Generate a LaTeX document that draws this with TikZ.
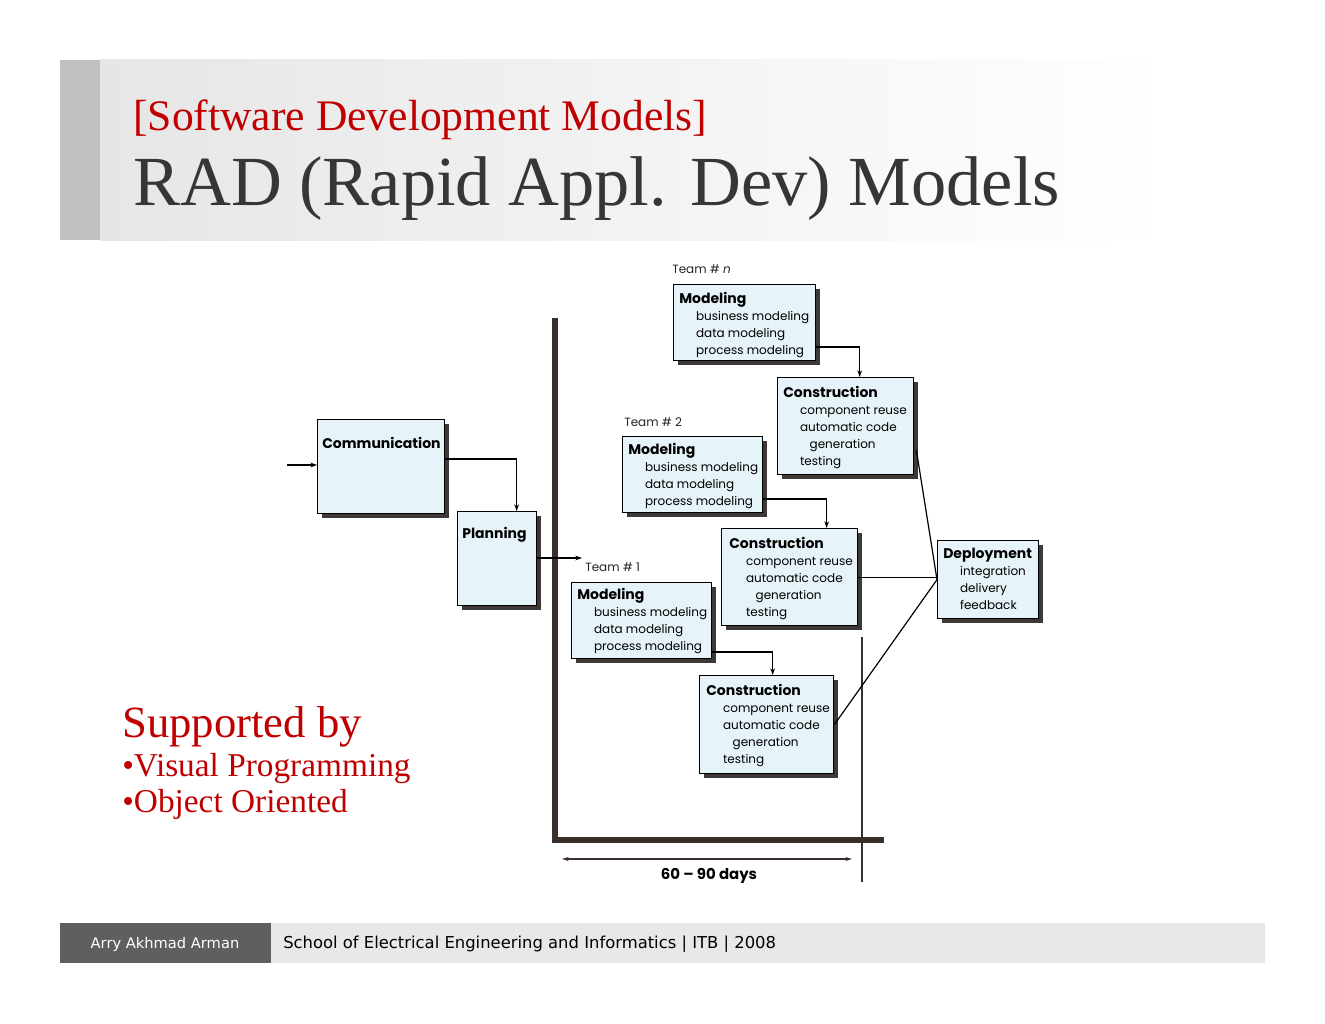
\documentclass[tikz,border=0pt]{standalone}
\usepackage{fontspec}
\setmainfont{Liberation Serif}
\newfontfamily\diafont{Poppins}
\newfontfamily\footfont{DejaVu Sans}
\usetikzlibrary{calc,shadows,arrows.meta}
\definecolor{boxfill}{HTML}{E6F3F8}
\definecolor{shadowc}{HTML}{3E3936}
\definecolor{titlered}{HTML}{C00000}
\definecolor{titlegray}{HTML}{363636}
\definecolor{axisc}{HTML}{3B2F2B}
\definecolor{hdrgray}{HTML}{E6E6E6}
\definecolor{bargray}{HTML}{C0C0C0}
\definecolor{footdark}{HTML}{5F5F5F}
\definecolor{footlight}{HTML}{E8E8E8}
\newcommand{\hd}[1]{{\fontsize{10.5}{12.75}\selectfont\bfseries #1}}
\newcommand{\ind}{\hspace*{1.4em}}
\begin{document}
\begin{tikzpicture}[x=0.75pt,y=-0.75pt,
  box/.style 2 args={draw=black, line width=1pt, fill=boxfill, anchor=north west,
    inner sep=0pt, minimum width=#1*0.75pt, minimum height=#2*0.75pt,
    drop shadow={shadow xshift=3.5pt, shadow yshift=-3.5pt, fill=shadowc, opacity=1}},
  lbl/.style={font=\diafont\fontsize{9}{12.75}\selectfont, align=left, anchor=north west, inner sep=0pt},
  team/.style={font=\diafont\fontsize{9}{11}\selectfont, anchor=west, inner sep=0pt, text=black!85},
  conn/.style={draw=black, line width=0.9pt},
  arr/.style={conn, -{Stealth[length=5pt,width=3.5pt]}},
  axis/.style={draw=axisc, line width=4.8pt},
  redtxt/.style={text=titlered, anchor=base west, inner sep=0pt}]
\useasboundingbox (0,0) rectangle (1325,1024);
\fill[white] (0,0) rectangle (1325,1024);
% header
\shade[left color=hdrgray, right color=white] (100,60) rectangle (1172,240);
\fill[bargray] (60,60) rectangle (100,240);
\node[redtxt, font=\fontsize{32.7}{33}\selectfont] (sub) at (133,131) {[Software Development Models]};
\node[anchor=base west, inner sep=0pt, text=titlegray, font=\fontsize{52.8}{53}\selectfont] (ttl) at (133,205) {RAD (Rapid Appl. Dev) Models};
% footer
\fill[footdark] (60,923) rectangle (271,963);
\fill[footlight] (271,923) rectangle (1265,963);
\node[text=white, font=\footfont\fontsize{11}{13}\selectfont, inner sep=0pt] (auth) at (165,944) {Arry Akhmad Arman};
\node[anchor=west, font=\footfont\fontsize{12.3}{14}\selectfont, inner sep=0pt] (school) at (283,944) {School of Electrical Engineering and Informatics | ITB | 2008};
% supported by
\node[redtxt, font=\fontsize{33.5}{34}\selectfont] (sup) at (122,737) {Supported by};
\node[redtxt, font=\fontsize{25}{25}\selectfont] (vp) at (122,776) {\textbullet Visual Programming};
\node[redtxt, font=\fontsize{25}{25}\selectfont] (oo) at (122,812) {\textbullet Object Oriented};
% axes
\coordinate (axtop) at (555,318);
\coordinate (axcorner) at (555,840);
\coordinate (axend) at (884,840);
\draw[axis, line join=miter] (axtop) -- (axcorner) -- (axend);
\coordinate (tltop) at (862,637);
\coordinate (tlbot) at (862,882);
\draw[draw=axisc, line width=1pt] (tltop) -- (tlbot);
\coordinate (dl) at (562,859);
\coordinate (dr) at (852,859);
\draw[draw=axisc, line width=0.9pt, {Stealth[length=5pt,width=3pt]}-{Stealth[length=5pt,width=3pt]}] (dl) -- (dr);
\node[font=\diafont\bfseries\fontsize{11.2}{13}\selectfont, inner sep=0pt] (days) at (709,876) {60 – 90 days};
% boxes
\node[box={127}{94}] (comm) at (317,419) {};
\node[box={79}{94}] (plan) at (457,511) {};
\node[box={140}{76}] (m1) at (571,582) {};
\node[box={134}{98}] (c1) at (699,675) {};
\node[box={140}{76}] (m2) at (622,436) {};
\node[box={136}{97}] (c2) at (721,528) {};
\node[box={142}{76}] (mn) at (673,284) {};
\node[box={136}{97}] (cn) at (777,377) {};
\node[box={101}{78}] (dep) at (937,540) {};
% box texts
\node[lbl] (commt) at ($(comm.north west)+(5,18)$) {\hd{Communication}};
\node[lbl] (plant) at ($(plan.north west)+(5,16)$) {\hd{Planning}};
\node[lbl] (m1t) at ($(m1.north west)+(6,6)$) {\hd{Modeling}\\\ind business modeling\\\ind data modeling\\\ind process modeling};
\node[lbl] (m2t) at ($(m2.north west)+(6,7)$) {\hd{Modeling}\\\ind business modeling\\\ind data modeling\\\ind process modeling};
\node[lbl] (mnt) at ($(mn.north west)+(6,8)$) {\hd{Modeling}\\\ind business modeling\\\ind data modeling\\\ind process modeling};
\node[lbl] (c1t) at ($(c1.north west)+(7,9)$) {\hd{Construction}\\\ind component reuse\\\ind automatic code\\\ind\hspace*{0.8em}generation\\\ind testing};
\node[lbl] (c2t) at ($(c2.north west)+(8,9)$) {\hd{Construction}\\\ind component reuse\\\ind automatic code\\\ind\hspace*{0.8em}generation\\\ind testing};
\node[lbl] (cnt) at ($(cn.north west)+(6,9)$) {\hd{Construction}\\\ind component reuse\\\ind automatic code\\\ind\hspace*{0.8em}generation\\\ind testing};
\node[lbl] (dept) at ($(dep.north west)+(6,8)$) {\hd{Deployment}\\\ind integration\\\ind delivery\\\ind feedback};
% team labels
\node[team] (t1) at (585,567) {Team \# 1};
\node[team] (t2) at (624,422) {Team \# 2};
\node[team] (tn) at (672,269) {Team \# \textit{n}};
% connectors
\coordinate (in) at (287,465);
\draw[arr] (in) -- (in -| comm.west);
\draw[arr] ($(comm.north east)+(0,40)$) -| ($(plan.north)+(19.5,0)$);
\coordinate (t1in) at (582,558);
\draw[arr] (plan.east |- t1in) -- (t1in);
\draw[arr] ($(m1.north east)+(0,70)$) -| ($(c1.north)+(6,0)$);
\draw[arr] ($(m2.north east)+(0,63)$) -| ($(c2.north)+(37,0)$);
\draw[arr] ($(mn.north east)+(0,63)$) -| ($(cn.north)+(14,0)$);
\draw[conn] (c2.east) -- (c2.east -| dep.west);
\draw[conn] ($(cn.north east)+(2,73)$) -- (dep.west);
\draw[conn] (c1.east) -- (dep.west);
\end{tikzpicture}
\end{document}
